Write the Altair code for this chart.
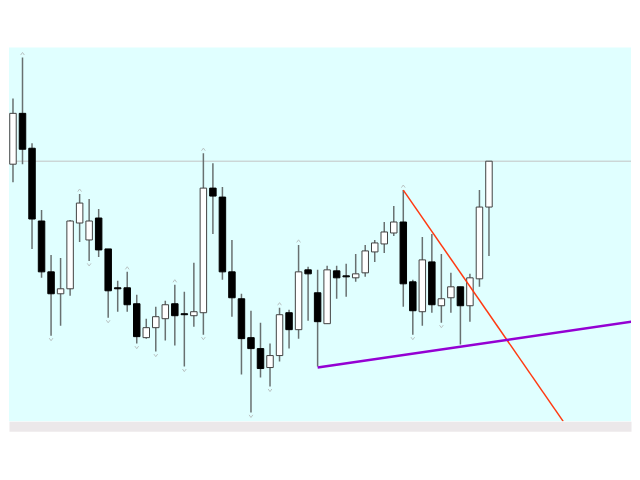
import altair as alt
import pandas as pd

# ---- candle data (price) ----
opens = [1.1206, 1.1258, 1.1309, 1.1274, 1.1201, 1.1150, 1.1128, 1.1133, 1.1199, 1.1182,
         1.1204, 1.1173, 1.1134, 1.1134, 1.1118, 1.1084, 1.1094, 1.1103, 1.1118, 1.1108,
         1.1106, 1.1109, 1.1234, 1.1225, 1.1150, 1.1123, 1.1084, 1.1073, 1.1054, 1.1066,
         1.1109, 1.1092, 1.1152, 1.1129, 1.1098, 1.1151, 1.1146, 1.1144, 1.1149, 1.1170,
         1.1178, 1.1189, 1.1200, 1.1140, 1.1110, 1.1160, 1.1116, 1.1124, 1.1135, 1.1116,
         1.1143, 1.1215]
highs = [1.1259, 1.1324, 1.1365, 1.1279, 1.1212, 1.1167, 1.1164, 1.1202, 1.1228, 1.1223,
         1.1213, 1.1173, 1.1141, 1.1150, 1.1127, 1.1103, 1.1115, 1.1121, 1.1137, 1.1130,
         1.1159, 1.1269, 1.1259, 1.1235, 1.1182, 1.1128, 1.1111, 1.1099, 1.1078, 1.1114,
         1.1112, 1.1177, 1.1155, 1.1152, 1.1156, 1.1156, 1.1158, 1.1168, 1.1177, 1.1182,
         1.1200, 1.1216, 1.1232, 1.1142, 1.1185, 1.1188, 1.1168, 1.1149, 1.1135, 1.1148,
         1.1232, 1.1261]
lows = [1.1168, 1.1240, 1.1258, 1.1173, 1.1144, 1.1086, 1.1096, 1.1126, 1.1180, 1.1161,
        1.1165, 1.1104, 1.1110, 1.1110, 1.1078, 1.1083, 1.1070, 1.1081, 1.1076, 1.1055,
        1.1095, 1.1087, 1.1188, 1.1142, 1.1105, 1.1047, 1.1009, 1.1044, 1.1035, 1.1060,
        1.1073, 1.1083, 1.1101, 1.1055, 1.1098, 1.1123, 1.1125, 1.1140, 1.1145, 1.1160,
        1.1169, 1.1186, 1.1115, 1.1087, 1.1096, 1.1109, 1.1099, 1.1109, 1.1077, 1.1100,
        1.1135, 1.1166]
closes = [1.1259, 1.1309, 1.1273, 1.1203, 1.1150, 1.1128, 1.1133, 1.1201, 1.1219, 1.1201,
          1.1172, 1.1131, 1.1133, 1.1117, 1.1085, 1.1094, 1.1105, 1.1117, 1.1106, 1.1107,
          1.1110, 1.1234, 1.1226, 1.1150, 1.1124, 1.1083, 1.1073, 1.1053, 1.1066, 1.1107,
          1.1092, 1.1150, 1.1148, 1.1100, 1.1152, 1.1144, 1.1145, 1.1148, 1.1171, 1.1179,
          1.1190, 1.1200, 1.1138, 1.1111, 1.1162, 1.1117, 1.1123, 1.1135, 1.1116, 1.1144,
          1.1215, 1.1261]
bar_index = list(range(len(opens)))

# fractal markers (bar indices)
fractal_up = [2, 8, 13, 18, 21, 29, 31, 42]
fractal_down = [5, 9, 11, 14, 16, 19, 21, 26, 28, 43, 46]

# current price line
last_price = [1.1261]

# trend lines (bar index, price)
red_x = [42, 58.8]
red_y = [1.1232, 1.1000]
purple_x = [33, 66.76]
purple_y = [1.1054, 1.1101]

df = pd.DataFrame({"i": bar_index, "open": opens, "high": highs,
                   "low": lows, "close": closes})
df_up = pd.DataFrame({"i": fractal_up, "p": [highs[k] for k in fractal_up]})
df_dn = pd.DataFrame({"i": fractal_down, "p": [lows[k] for k in fractal_down]})
df_last = pd.DataFrame({"p": last_price})
df_red = pd.DataFrame({"x": red_x, "y": red_y})
df_purple = pd.DataFrame({"x": purple_x, "y": purple_y})

xs = alt.Scale(domain=[0.581, 65.92], nice=False, zero=False, padding=0)
ys = alt.Scale(domain=[1.1000, 1.1375], nice=False, zero=False, padding=0)

xaxis = alt.Axis(labels=False, ticks=False, grid=False, title=None,
                 domainColor="#ECE8EA", domainWidth=10, offset=5)

hline = alt.Chart(df_last).mark_rule(color="#c4c4c4", strokeWidth=1).encode(
    y=alt.Y("p:Q", scale=ys, axis=None)
)

wicks = alt.Chart(df).mark_rule(color="#687070", strokeWidth=1.5, clip=True).encode(
    x=alt.X("i:Q", scale=xs, axis=xaxis),
    y=alt.Y("low:Q", scale=ys, axis=None),
    y2="high:Q",
)

bull = "datum.close >= datum.open"
bodies = alt.Chart(df).mark_bar(size=6.5, strokeWidth=1, clip=True).encode(
    x=alt.X("i:Q", scale=xs),
    y=alt.Y("open:Q", scale=ys),
    y2="close:Q",
    fill=alt.condition(bull, alt.value("#ffffff"), alt.value("#000000")),
    stroke=alt.condition(bull, alt.value("#404040"), alt.value("#000000")),
)

up_marks = alt.Chart(df_up).mark_point(
    shape="M-1,0.8L0,-0.6L1,0.8", filled=False, size=14, color="#a8a8a8",
    strokeWidth=1, yOffset=-4, clip=True
).encode(x=alt.X("i:Q", scale=xs), y=alt.Y("p:Q", scale=ys))

dn_marks = alt.Chart(df_dn).mark_point(
    shape="M-1,-0.8L0,0.6L1,-0.8", filled=False, size=14, color="#a8a8a8",
    strokeWidth=1, yOffset=4, clip=True
).encode(x=alt.X("i:Q", scale=xs), y=alt.Y("p:Q", scale=ys))

red_line = alt.Chart(df_red).mark_line(color="#ff3a12", strokeWidth=1.5, clip=True).encode(
    x=alt.X("x:Q", scale=xs), y=alt.Y("y:Q", scale=ys)
)
purple_line = alt.Chart(df_purple).mark_line(color="#9400d3", strokeWidth=2.5, clip=True).encode(
    x=alt.X("x:Q", scale=xs), y=alt.Y("y:Q", scale=ys)
)

chart = alt.layer(hline, wicks, bodies, up_marks, dn_marks, red_line, purple_line).properties(
    width=624, height=375,
    padding={"left": 0, "top": 39, "right": 0, "bottom": 12},
    background="#ffffff",
).configure_view(fill="#e0ffff", stroke=None)

chart.save("out.html", embed_options={"renderer": "svg", "actions": False})
